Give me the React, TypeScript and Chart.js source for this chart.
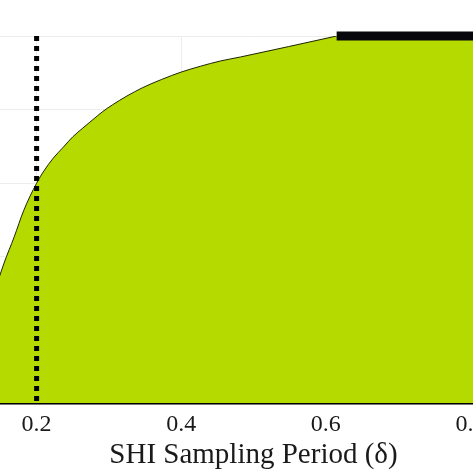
import React, { useEffect, useRef } from "react";
import { Chart, registerables } from "chart.js";

Chart.register(...registerables);

// Curve: SHI sampling period (delta) vs normalized value (rising part)
const curveX = [0.1, 0.12, 0.14, 0.155, 0.169, 0.182, 0.2, 0.21, 0.223, 0.237, 0.25, 0.264, 0.278, 0.291, 0.305, 0.325, 0.346, 0.373, 0.4, 0.427, 0.454, 0.482, 0.615];
const curveY = [0.05, 0.16, 0.293, 0.383, 0.454, 0.525, 0.6, 0.633, 0.668, 0.698, 0.726, 0.75, 0.773, 0.794, 0.813, 0.837, 0.859, 0.882, 0.902, 0.918, 0.932, 0.943, 1.0];

// Saturated part (thick segment)
const plateauX = [0.615, 1.0];
const plateauY = [1.0, 1.0];
// Area under the saturated part (starts a hair early so no seam shows)
const plateauFillX = [0.612, 1.0];
const plateauFillY = [1.0, 1.0];

// Dotted vertical marker
const markerX = [0.2, 0.2];
const markerY = [1.0, 0.0];

const xTickLabels = ["0.2", "0.4", "0.6", "0.8"];
const xTitle = "SHI Sampling Period (δ)";

export default function App() {
  const ref = useRef<HTMLCanvasElement | null>(null);

  useEffect(() => {
    if (!ref.current) return;
    const pts = (xs: number[], ys: number[]) => xs.map((x, i) => ({ x, y: ys[i] }));
    const green = "#b4da00";
    const chart = new Chart(ref.current, {
      type: "line",
      data: {
        datasets: [
          {
            data: pts(plateauX, plateauY),
            borderColor: "#08080c",
            borderWidth: 9,
            borderCapStyle: "butt",
            pointRadius: 0,
            fill: false,
            clip: false as any,
            order: 0,
          },
          {
            data: pts(markerX, markerY),
            borderColor: "#000000",
            borderWidth: 5,
            borderDash: [5, 5],
            borderCapStyle: "butt",
            pointRadius: 0,
            fill: false,
            clip: false as any,
            order: 1,
          },
          {
            data: pts(curveX, curveY),
            borderColor: "#1c2400",
            borderWidth: 1,
            backgroundColor: green,
            fill: "origin",
            pointRadius: 0,
            cubicInterpolationMode: "monotone",
            order: 2,
          },
          {
            data: pts(plateauFillX, plateauFillY),
            borderColor: "rgba(0,0,0,0)",
            borderWidth: 0,
            backgroundColor: green,
            fill: "origin",
            pointRadius: 0,
            order: 3,
          },
        ],
      },
      options: {
        animation: false,
        responsive: true,
        maintainAspectRatio: false,
        layout: { padding: { top: 36, left: 0, right: 0, bottom: 0 } },
        plugins: { legend: { display: false }, tooltip: { enabled: false } },
        scales: {
          x: {
            type: "linear",
            min: 0,
            max: 1,
            afterFit: (s: any) => {
              s.height = 69;
            },
            ticks: {
              stepSize: 0.2,
              autoSkip: false,
              maxRotation: 0,
              padding: 6,
              color: "#1a1a1a",
              font: { family: "Liberation Serif", size: 24, lineHeight: 1.2 },
              callback: (v: any) => {
                const n = Number(v);
                const lbl = n.toFixed(1);
                return xTickLabels.includes(lbl) ? lbl : "";
              },
            },
            grid: { color: "#ececec", drawTicks: false, lineWidth: 1 },
            border: { display: true, color: "#000000", width: 1.5, z: 1 } as any,
            title: {
              display: true,
              text: xTitle,
              color: "#1a1a1a",
              font: { family: "Liberation Serif", size: 29, lineHeight: 1.2 },
              padding: { top: 0, bottom: 0 },
            },
          },
          y: {
            type: "linear",
            min: 0,
            max: 1,
            afterFit: (s: any) => {
              s.width = 0;
            },
            ticks: { stepSize: 0.2, display: false },
            grid: { color: "#ececec", drawTicks: false, lineWidth: 1 },
            border: { display: false },
          },
        },
      },
    });
    return () => chart.destroy();
  }, []);

  return (
    <div style={{ position: "fixed", left: 0, top: 0, width: 473, height: 473, overflow: "hidden", background: "#fff" }}>
      <div style={{ position: "absolute", left: -114, top: 0, width: 735, height: 473 }}>
        <canvas ref={ref} />
      </div>
    </div>
  );
}
